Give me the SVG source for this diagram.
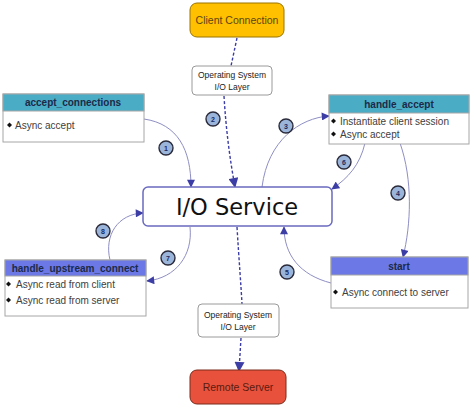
<svg xmlns="http://www.w3.org/2000/svg" width="474" height="409" viewBox="0 0 474 409">
<defs>
<marker id="ah" viewBox="0 0 10 10" refX="9" refY="5" markerWidth="9" markerHeight="8" markerUnits="userSpaceOnUse" orient="auto"><path d="M0,0 L10,5 L0,10 z" fill="#3d3da6"/></marker>
<marker id="ahd" viewBox="0 0 10 10" refX="9" refY="5" markerWidth="11" markerHeight="10" markerUnits="userSpaceOnUse" orient="auto"><path d="M0,0 L10,5 L0,10 z" fill="#3d3da6"/></marker>
</defs>
<style>
.conn{fill:none;stroke:#8e8ec4;stroke-width:1}
.dash{fill:none;stroke:#3d3da6;stroke-width:1.4;stroke-dasharray:3,2}
.box{fill:#fff;stroke:#a6a6a6;stroke-width:1}
.hdr{stroke:#a6a6a6;stroke-width:1}
.teal{fill:#4bacc6}
.blue{fill:#6b78e6}
.ht{font-family:"Liberation Sans",Arial,sans-serif;font-size:10px;font-weight:bold;fill:#1c2a48;text-anchor:middle}
.it{font-family:"Liberation Sans",Arial,sans-serif;font-size:10px;fill:#404040}
.os{fill:#fff;stroke:#9a9a9a;stroke-width:1}
.ost{font-family:"Liberation Sans",Arial,sans-serif;font-size:8.5px;fill:#222;text-anchor:middle}
.num circle{fill:#9bb4d9;stroke:#2a2a3a;stroke-width:1.4}
.num text{font-family:"Liberation Sans",Arial,sans-serif;font-size:7px;font-weight:bold;fill:#1c2a60;text-anchor:middle}
</style>
<g id="connectors">
<path class="dash" d="M237,38 L231,66"/>
<path class="dash" d="M224,96 C226,130 230,160 235,187" marker-end="url(#ahd)"/>
<path class="dash" d="M237,227 C239,260 241,285 242,304"/>
<path class="dash" d="M241,338 L239,371" marker-end="url(#ahd)"/>
<path class="conn" d="M144,119 C178,124 191,150 191,187" marker-end="url(#ah)"/>
<path class="conn" d="M262,187 C268,140 300,118 329,116" marker-end="url(#ah)"/>
<path class="conn" d="M365,143 C360,165 348,178 332,189" marker-end="url(#ah)"/>
<path class="conn" d="M400,143 C413,180 411,225 403,257" marker-end="url(#ah)"/>
<path class="conn" d="M331,283 C300,275 284,255 284,227" marker-end="url(#ah)"/>
<path class="conn" d="M190,227 C193,255 176,278 147,281" marker-end="url(#ah)"/>
<path class="conn" d="M110,260 C104,235 118,214 143,213" marker-end="url(#ah)"/>
</g>
<g id="client-connection">
<rect x="190" y="3" width="94" height="34" rx="7" fill="#ffc000" stroke="#9a7400" stroke-width="1"/>
<text x="237" y="24" font-family="Liberation Sans,Arial,sans-serif" font-size="10.5" fill="#5a4510" text-anchor="middle">Client Connection</text>
</g>
<g id="os-layer-top">
<rect class="os" x="192" y="66" width="80" height="29" rx="4"/>
<text class="ost" x="232" y="78">Operating System</text>
<text class="ost" x="232" y="90">I/O Layer</text>
</g>
<g id="os-layer-bottom">
<rect class="os" x="198" y="304" width="81" height="33" rx="4"/>
<text class="ost" x="238" y="318">Operating System</text>
<text class="ost" x="238" y="330">I/O Layer</text>
</g>
<g id="remote-server">
<rect x="190" y="370" width="96" height="34" rx="7" fill="#e8523c" stroke="#7a2a1a" stroke-width="1"/>
<text x="238" y="391" font-family="Liberation Sans,Arial,sans-serif" font-size="10.5" fill="#5a1a10" text-anchor="middle">Remote Server</text>
</g>
<g id="io-service">
<rect x="143" y="187" width="189" height="39" rx="5" fill="#fff" stroke="#6a6ac0" stroke-width="1.5"/>
<text x="237" y="215" font-family="DejaVu Sans,Verdana,sans-serif" font-size="22.5" fill="#111" text-anchor="middle">I/O Service</text>
</g>
<g id="accept-connections">
<rect class="box" x="3" y="94" width="141" height="48"/>
<rect class="hdr teal" x="3" y="94" width="141" height="17"/>
<text class="ht" x="73" y="106">accept_connections</text>
<path d="M7,125 l2.5,-2.5 l2.5,2.5 l-2.5,2.5 z" fill="#111"/>
<text class="it" x="15" y="129">Async accept</text>
</g>
<g id="handle-accept">
<rect class="box" x="329" y="95" width="140" height="49"/>
<rect class="hdr teal" x="329" y="95" width="140" height="18"/>
<text class="ht" x="399" y="108">handle_accept</text>
<path d="M331,121 l2.5,-2.5 l2.5,2.5 l-2.5,2.5 z" fill="#111"/>
<text class="it" x="340" y="125">Instantiate client session</text>
<path d="M331,134 l2.5,-2.5 l2.5,2.5 l-2.5,2.5 z" fill="#111"/>
<text class="it" x="340" y="138">Async accept</text>
</g>
<g id="handle-upstream-connect">
<rect class="box" x="5" y="260" width="141" height="56"/>
<rect class="hdr blue" x="5" y="260" width="141" height="16"/>
<text class="ht" x="75" y="272">handle_upstream_connect</text>
<path d="M6,284 l2.5,-2.5 l2.5,2.5 l-2.5,2.5 z" fill="#111"/>
<text class="it" x="16" y="288">Async read from client</text>
<path d="M6,300 l2.5,-2.5 l2.5,2.5 l-2.5,2.5 z" fill="#111"/>
<text class="it" x="16" y="304">Async read from server</text>
</g>
<g id="start">
<rect class="box" x="331" y="257" width="137" height="51"/>
<rect class="hdr blue" x="331" y="257" width="137" height="18"/>
<text class="ht" x="399" y="270">start</text>
<path d="M333,292 l2.5,-2.5 l2.5,2.5 l-2.5,2.5 z" fill="#111"/>
<text class="it" x="342" y="296">Async connect to server</text>
</g>
<g id="labels" class="num">
<g><circle cx="166" cy="148" r="7"/><text x="166" y="150.5">1</text></g>
<g><circle cx="213" cy="119" r="7"/><text x="213" y="121.5">2</text></g>
<g><circle cx="286" cy="126" r="7"/><text x="286" y="128.5">3</text></g>
<g><circle cx="398" cy="193" r="7"/><text x="398" y="195.5">4</text></g>
<g><circle cx="287" cy="272" r="7"/><text x="287" y="274.5">5</text></g>
<g><circle cx="344" cy="162" r="7"/><text x="344" y="164.5">6</text></g>
<g><circle cx="168" cy="258" r="7"/><text x="168" y="260.5">7</text></g>
<g><circle cx="103" cy="231" r="7"/><text x="103" y="233.5">8</text></g>
</g>
</svg>
